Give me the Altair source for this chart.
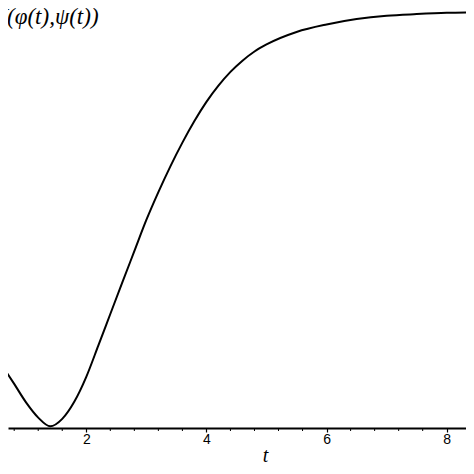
import altair as alt
import pandas as pd

# curve V(phi(t), psi(t)) (arbitrary units, axis at 0, plateau ~1)
t_values = [0.6, 0.8, 1.0, 1.2, 1.4, 1.6, 1.8, 2.0, 2.2, 2.4, 2.6, 2.8, 3.0, 3.2, 3.4,
            3.6, 3.8, 4.0, 4.2, 4.4, 4.6, 4.8, 5.0, 5.5, 6.0, 6.5, 7.0, 7.5, 8.0, 8.5]
v_values = [0.150, 0.106, 0.061, 0.025, 0.004, 0.022, 0.063, 0.123, 0.198, 0.274, 0.350,
            0.425, 0.500, 0.567, 0.629, 0.686, 0.738, 0.784, 0.823, 0.856, 0.883, 0.905,
            0.922, 0.952, 0.970, 0.983, 0.991, 0.995, 0.998, 0.999]

major_ticks = [2, 4, 6, 8]
minor_ticks = [0.8, 1.2, 1.6, 2.4, 2.8, 3.2, 3.6, 4.4, 4.8, 5.2, 5.6,
               6.4, 6.8, 7.2, 7.6, 8.4]
title_text = ["V(φ(t),ψ(t))"]
x_title = "t"

curve = pd.DataFrame({"t": t_values, "V": v_values})
minor = pd.DataFrame({"t": minor_ticks})
label = pd.DataFrame({"label": title_text})

xscale = alt.Scale(domain=[0.697, 8.321], nice=False, zero=False)
yscale = alt.Scale(domain=[0, 1.0096], nice=False, zero=False)

xaxis = alt.Axis(
    values=major_ticks, format="d", grid=False,
    domainColor="black", domainWidth=2,
    tickColor="black", tickSize=4, tickWidth=1.2,
    labelFont="Liberation Sans", labelFontSize=14, labelColor="black",
    labelPadding=0,
    title=x_title, titleFont="Liberation Serif", titleFontStyle="italic",
    titleFontWeight="normal", titleFontSize=20, titleColor="black",
    titleX=257, titleY=33, titleAlign="center", titleBaseline="alphabetic",
)

line = alt.Chart(curve).mark_line(
    color="black", strokeWidth=2, interpolate="monotone", clip=True
).encode(
    x=alt.X("t:Q", scale=xscale, axis=xaxis),
    y=alt.Y("V:Q", scale=yscale, axis=None),
)

minor_rules = alt.Chart(minor).mark_rule(color="black", strokeWidth=1).encode(
    x=alt.X("t:Q", scale=xscale, axis=xaxis),
    y=alt.value(420),
    y2=alt.value(423),
)

title_mark = alt.Chart(label).mark_text(
    font="Liberation Serif", fontStyle="italic", fontSize=23,
    align="left", baseline="alphabetic", color="black",
).encode(
    x=alt.value(-15),
    y=alt.value(16),
    text=alt.Text("label:N"),
)

chart = alt.layer(line, minor_rules, title_mark).properties(
    width=458, height=420,
    autosize=alt.AutoSizeParams(type="none"),
    padding={"left": 0, "top": 0, "right": 0, "bottom": 38},
    background="white",
).configure_view(stroke=None)

chart.save("out.html", embed_options={"renderer": "svg", "actions": False})
